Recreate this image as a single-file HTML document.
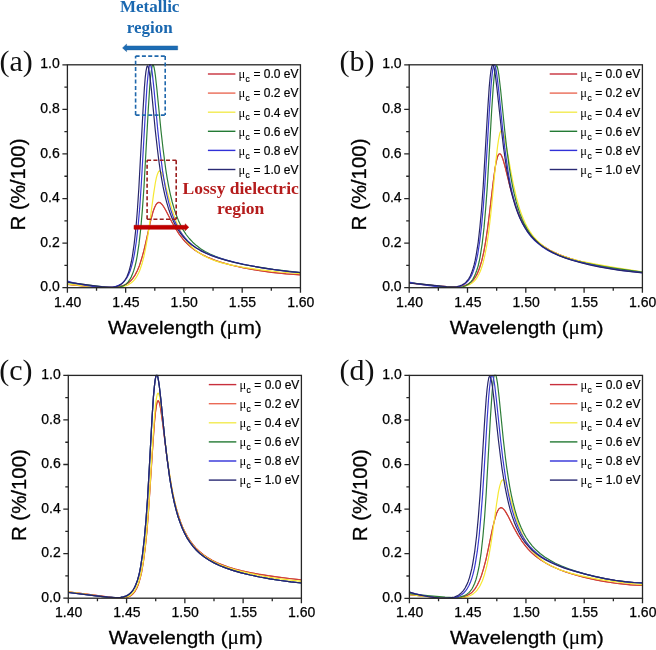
<!DOCTYPE html><html><head><meta charset="utf-8"><title>Reflectance spectra</title><style>html,body{margin:0;padding:0;background:#fff;}svg{display:block;}</style></head><body>
<svg width="656" height="650" viewBox="0 0 656 650">
<rect width="656" height="650" fill="#fff"/>
<defs><clipPath id="cpa"><rect x="67.4" y="64.1" width="233.05" height="223.6"/></clipPath></defs>
<g clip-path="url(#cpa)" fill="none" stroke-linejoin="round">
<path stroke="#c42a2a" stroke-width="1.2" d="M67.4,284.3 81.9,285.8 95.6,286.9 105.1,287.4 112.3,287.4 115.2,287.2 117.9,286.9 120.3,286.4 122.5,285.8 124.6,285.0 126.4,284.1 128.2,282.9 129.9,281.6 131.3,280.2 132.6,278.7 135.0,275.1 137.3,270.7 139.5,265.4 141.6,258.8 143.8,251.0 145.8,242.4 150.5,221.3 153.0,211.8 154.5,207.7 155.9,204.8 156.6,203.8 157.4,203.0 158.1,202.6 158.8,202.4 159.9,202.6 160.9,203.3 162.1,204.5 163.4,206.3 165.6,210.0 171.7,221.8 175.2,228.0 179.1,234.1 183.1,239.3 185.3,241.8 187.6,244.1 190.0,246.3 192.4,248.3 195.0,250.2 197.7,252.0 203.7,255.4 207.5,257.2 211.5,258.9 215.8,260.6 220.5,262.1 230.8,265.0 242.6,267.7 256.5,270.2 271.3,272.3 286.2,273.9 300.5,274.9"/>
<path stroke="#d84a3a" stroke-width="0.8" d="M67.4,284.3 81.9,285.8 95.6,286.9 105.1,287.4 112.3,287.4 115.2,287.2 117.9,286.9 120.3,286.4 122.5,285.8 124.6,285.0 126.4,284.1 128.2,282.9 129.9,281.6 131.3,280.2 132.6,278.7 135.0,275.1 137.3,270.7 139.5,265.4 141.6,258.8 143.8,251.0 145.8,242.4 150.5,221.3 153.0,211.8 154.5,207.7 155.9,204.8 156.6,203.8 157.4,203.0 158.1,202.6 158.8,202.4 159.9,202.6 160.9,203.3 162.1,204.5 163.4,206.3 165.6,210.0 171.7,221.8 175.2,228.0 179.1,234.1 183.1,239.3 185.3,241.8 187.6,244.1 190.0,246.3 192.4,248.3 195.0,250.2 197.7,252.0 203.7,255.4 207.5,257.2 211.5,258.9 215.8,260.6 220.5,262.1 230.8,265.0 242.6,267.7 256.5,270.2 271.3,272.3 286.2,273.9 300.5,274.9"/>
<path stroke="#f6e832" stroke-width="1.2" d="M67.4,284.2 83.5,285.9 98.6,287.1 109.1,287.6 113.2,287.6 116.7,287.5 119.8,287.1 122.6,286.7 125.1,286.0 127.4,285.2 129.4,284.1 131.3,282.8 133.0,281.3 134.6,279.6 136.0,277.7 137.3,275.5 138.6,273.0 139.8,270.3 142.0,263.8 144.0,256.0 145.9,246.7 147.9,235.3 149.7,222.9 153.5,194.7 155.3,183.0 156.4,177.6 157.5,173.9 158.5,171.7 159.0,171.2 159.6,170.9 160.4,171.2 161.2,172.3 162.1,174.0 163.0,176.5 164.7,182.1 169.7,201.1 172.4,210.8 175.7,220.2 177.3,224.3 179.0,228.1 180.8,231.9 182.8,235.4 184.9,238.7 187.1,241.7 189.5,244.5 191.9,247.1 194.5,249.4 197.4,251.7 200.6,253.8 204.1,255.9 207.8,257.7 211.9,259.5 216.3,261.1 221.1,262.6 226.3,263.9 231.9,265.2 238.2,266.5 245.2,267.7 261.0,269.9 279.9,272.0 300.5,273.7"/>
<path stroke="#2c7c36" stroke-width="1.2" d="M67.4,282.3 96.8,286.2 104.7,287.2 112.0,287.7 114.9,287.7 117.4,287.5 120.1,286.9 122.5,286.2 124.6,285.1 126.5,283.6 128.2,281.9 129.7,279.7 131.2,277.1 132.5,274.1 133.8,270.4 135.0,266.3 136.1,261.6 137.1,256.5 139.0,243.9 140.8,228.3 142.4,209.4 144.0,186.8 148.3,109.0 149.7,87.2 150.5,77.4 151.4,70.3 152.1,66.4 152.5,65.3 152.9,65.0 153.2,65.1 153.5,65.6 154.1,67.5 154.7,70.9 155.4,75.7 156.9,89.3 161.0,130.8 163.1,149.2 165.8,169.6 167.2,178.3 168.7,186.6 170.4,194.6 172.2,202.0 174.1,208.7 176.2,214.8 178.4,220.4 180.8,225.5 183.3,230.2 186.1,234.5 189.3,238.5 192.7,242.2 196.5,245.6 200.6,248.7 205.1,251.5 210.0,254.0 215.4,256.4 221.4,258.6 228.0,260.6 235.2,262.5 243.2,264.3 252.2,266.0 262.1,267.6 273.3,269.3 300.5,272.7"/>
<path stroke="#3a3ad2" stroke-width="1.2" d="M67.4,281.1 73.5,282.8 79.8,284.2 86.2,285.5 92.6,286.4 98.7,287.1 104.0,287.4 108.7,287.4 112.7,287.0 115.8,286.4 118.5,285.4 120.9,284.1 123.0,282.5 125.0,280.4 126.8,278.0 128.4,275.0 129.9,271.6 131.1,267.9 132.3,263.7 133.4,259.0 134.5,253.6 136.4,241.0 138.2,224.9 139.8,206.8 141.3,184.3 145.7,106.7 147.0,85.9 147.9,76.1 148.6,69.6 149.4,65.7 149.7,64.8 150.1,64.5 150.4,64.6 150.7,65.1 151.2,67.1 151.9,70.5 152.5,75.2 154.0,89.4 157.9,131.3 159.9,150.0 162.5,170.4 163.9,179.1 165.3,187.4 167.0,195.4 168.7,202.7 170.6,209.4 172.6,215.4 174.7,220.9 177.0,225.8 179.5,230.3 182.2,234.4 185.3,238.2 188.6,241.8 192.4,245.0 196.5,247.9 201.0,250.6 206.0,253.0 211.7,255.4 218.0,257.6 226.4,260.1 236.1,262.5 247.2,265.0 259.1,267.3 270.6,269.2 281.3,270.7 291.2,271.8 300.5,272.5"/>
<path stroke="#26266a" stroke-width="1.2" d="M67.4,282.1 92.7,285.6 101.8,286.7 108.8,287.2 111.6,287.2 114.0,287.0 116.5,286.5 118.7,285.7 120.7,284.6 122.5,283.2 124.1,281.4 125.5,279.2 126.9,276.7 128.2,273.6 129.3,270.1 130.4,266.0 131.4,261.5 132.4,256.2 134.2,243.6 135.9,228.4 137.4,210.0 138.9,187.3 143.0,110.5 144.4,87.8 145.2,77.8 146.0,71.1 146.8,67.1 147.1,66.2 147.5,65.9 147.7,66.0 148.0,66.5 148.6,68.4 149.2,71.5 149.8,75.9 151.4,89.6 155.3,130.5 157.4,149.0 158.7,159.6 160.1,169.5 161.5,178.1 163.0,186.4 164.7,194.3 166.5,201.6 168.4,208.2 170.5,214.3 172.7,219.7 175.2,224.9 177.8,229.5 180.7,233.7 183.9,237.7 187.5,241.4 191.4,244.7 195.8,247.8 200.5,250.6 205.8,253.2 211.6,255.7 218.1,258.0 225.6,260.2 234.1,262.4 243.5,264.5 253.9,266.4 265.3,268.3 277.1,270.0 289.0,271.5 300.5,272.6"/>
</g>
<rect x="67.4" y="64.8" width="233.05" height="222.9" fill="none" stroke="#262626" stroke-width="1.3"/>
<path d="M67.40,287.70v5 M96.53,287.70v3 M125.66,287.70v5 M154.79,287.70v3 M183.93,287.70v5 M213.06,287.70v3 M242.19,287.70v5 M271.32,287.70v3 M300.45,287.70v5 M67.40,287.70h-5 M67.40,265.41h-3 M67.40,243.12h-5 M67.40,220.83h-3 M67.40,198.54h-5 M67.40,176.25h-3 M67.40,153.96h-5 M67.40,131.67h-3 M67.40,109.38h-5 M67.40,87.09h-3 M67.40,64.80h-5" stroke="#262626" stroke-width="1.3" fill="none"/>
<g font-family="Liberation Sans, Arial, sans-serif" font-size="14" fill="#000" stroke="#000" stroke-width="0.25">
<text x="67.70" y="306.70" text-anchor="middle">1.40</text>
<text x="125.96" y="306.70" text-anchor="middle">1.45</text>
<text x="184.23" y="306.70" text-anchor="middle">1.50</text>
<text x="242.49" y="306.70" text-anchor="middle">1.55</text>
<text x="300.75" y="306.70" text-anchor="middle">1.60</text>
<text x="59.80" y="291.30" text-anchor="end">0.0</text>
<text x="59.80" y="246.72" text-anchor="end">0.2</text>
<text x="59.80" y="202.14" text-anchor="end">0.4</text>
<text x="59.80" y="157.56" text-anchor="end">0.6</text>
<text x="59.80" y="112.98" text-anchor="end">0.8</text>
<text x="59.80" y="68.40" text-anchor="end">1.0</text>
</g>
<text x="184.83" y="333.50" text-anchor="middle" font-family="Liberation Sans, Arial, sans-serif" font-size="19" textLength="153.8" lengthAdjust="spacingAndGlyphs" fill="#000" stroke="#000" stroke-width="0.3">Wavelength (<tspan font-family="Liberation Serif, Times New Roman, serif" font-size="20" stroke-width="0">μ</tspan>m)</text>
<text transform="translate(24.60,184.55) rotate(-90)" text-anchor="middle" font-family="Liberation Sans, Arial, sans-serif" font-size="19.5" textLength="92" lengthAdjust="spacingAndGlyphs" fill="#000" stroke="#000" stroke-width="0.3">R (%/100)</text>
<g font-family="Liberation Sans, Arial, sans-serif" font-size="12" fill="#000" stroke="#000" stroke-width="0.2">
<line x1="207.90" y1="74.00" x2="235.40" y2="74.00" stroke="#c8303c" stroke-width="1.4"/>
<text x="238.50" y="78.30"><tspan font-size="12.5" font-family="Liberation Serif, Times New Roman, serif" stroke-width="0">μ</tspan><tspan font-size="8.5" dy="3.9" dx="0.4">c</tspan><tspan dy="-3.9" dx="0.2"> = 0.0 eV</tspan></text>
<line x1="207.90" y1="93.10" x2="235.40" y2="93.10" stroke="#ea6a56" stroke-width="1.4"/>
<text x="238.50" y="97.40"><tspan font-size="12.5" font-family="Liberation Serif, Times New Roman, serif" stroke-width="0">μ</tspan><tspan font-size="8.5" dy="3.9" dx="0.4">c</tspan><tspan dy="-3.9" dx="0.2"> = 0.2 eV</tspan></text>
<line x1="207.90" y1="112.20" x2="235.40" y2="112.20" stroke="#f2ea50" stroke-width="1.4"/>
<text x="238.50" y="116.50"><tspan font-size="12.5" font-family="Liberation Serif, Times New Roman, serif" stroke-width="0">μ</tspan><tspan font-size="8.5" dy="3.9" dx="0.4">c</tspan><tspan dy="-3.9" dx="0.2"> = 0.4 eV</tspan></text>
<line x1="207.90" y1="131.30" x2="235.40" y2="131.30" stroke="#237a34" stroke-width="1.4"/>
<text x="238.50" y="135.60"><tspan font-size="12.5" font-family="Liberation Serif, Times New Roman, serif" stroke-width="0">μ</tspan><tspan font-size="8.5" dy="3.9" dx="0.4">c</tspan><tspan dy="-3.9" dx="0.2"> = 0.6 eV</tspan></text>
<line x1="207.90" y1="150.40" x2="235.40" y2="150.40" stroke="#3030d8" stroke-width="1.4"/>
<text x="238.50" y="154.70"><tspan font-size="12.5" font-family="Liberation Serif, Times New Roman, serif" stroke-width="0">μ</tspan><tspan font-size="8.5" dy="3.9" dx="0.4">c</tspan><tspan dy="-3.9" dx="0.2"> = 0.8 eV</tspan></text>
<line x1="207.90" y1="169.50" x2="235.40" y2="169.50" stroke="#2a2a74" stroke-width="1.4"/>
<text x="238.50" y="173.80"><tspan font-size="12.5" font-family="Liberation Serif, Times New Roman, serif" stroke-width="0">μ</tspan><tspan font-size="8.5" dy="3.9" dx="0.4">c</tspan><tspan dy="-3.9" dx="0.2"> = 1.0 eV</tspan></text>
</g>
<defs><clipPath id="cpb"><rect x="409.2" y="64.1" width="233.2" height="223.6"/></clipPath></defs>
<g clip-path="url(#cpb)" fill="none" stroke-linejoin="round">
<path stroke="#c42a2a" stroke-width="1.2" d="M409.2,282.8 424.1,284.7 439.8,286.2 450.3,286.8 454.3,286.9 457.7,286.7 460.7,286.4 463.3,285.9 465.6,285.2 467.8,284.3 469.7,283.1 471.5,281.7 473.2,280.1 474.7,278.1 476.0,276.0 477.3,273.6 478.5,270.8 479.6,267.8 481.8,260.6 483.8,251.8 485.7,241.1 487.6,228.4 489.3,214.7 493.2,182.1 495.1,167.8 496.3,161.5 497.4,157.2 497.9,155.7 498.5,154.6 499.0,154.0 499.6,153.8 500.0,153.8 500.4,154.1 501.3,155.2 502.1,157.1 503.1,159.8 504.9,166.0 509.9,186.3 512.9,196.9 516.2,207.3 517.9,211.9 519.7,216.1 521.7,220.4 523.7,224.3 525.9,227.9 528.1,231.3 530.5,234.4 533.1,237.3 535.8,240.1 538.7,242.6 542.1,245.3 545.9,247.8 549.9,250.2 554.3,252.4 559.1,254.5 564.3,256.5 569.9,258.4 576.1,260.3 583.4,262.2 591.3,264.1 599.7,265.9 608.4,267.6 617.2,269.1 625.9,270.4 634.3,271.4 642.4,272.2"/>
<path stroke="#d84a3a" stroke-width="0.8" d="M409.2,282.8 424.1,284.7 439.8,286.2 450.3,286.8 454.3,286.9 457.7,286.7 460.7,286.4 463.3,285.9 465.6,285.2 467.8,284.3 469.7,283.1 471.5,281.7 473.2,280.1 474.7,278.1 476.0,276.0 477.3,273.6 478.5,270.8 479.6,267.8 481.8,260.6 483.8,251.8 485.7,241.1 487.6,228.4 489.3,214.7 493.2,182.1 495.1,167.8 496.3,161.5 497.4,157.2 497.9,155.7 498.5,154.6 499.0,154.0 499.6,153.8 500.0,153.8 500.4,154.1 501.3,155.2 502.1,157.1 503.1,159.8 504.9,166.0 509.9,186.3 512.9,196.9 516.2,207.3 517.9,211.9 519.7,216.1 521.7,220.4 523.7,224.3 525.9,227.9 528.1,231.3 530.5,234.4 533.1,237.3 535.8,240.1 538.7,242.6 542.1,245.3 545.9,247.8 549.9,250.2 554.3,252.4 559.1,254.5 564.3,256.5 569.9,258.4 576.1,260.3 583.4,262.2 591.3,264.1 599.7,265.9 608.4,267.6 617.2,269.1 625.9,270.4 634.3,271.4 642.4,272.2"/>
<path stroke="#f6e832" stroke-width="1.2" d="M409.2,282.5 425.2,284.8 440.7,286.5 446.7,287.0 451.8,287.2 456.0,287.2 459.7,287.1 462.8,286.7 465.6,286.0 468.1,285.2 470.4,284.1 472.4,282.7 474.3,281.1 476.0,279.1 477.5,276.8 478.9,274.2 480.3,271.2 481.5,268.0 482.7,264.3 484.8,255.6 486.9,244.7 488.7,231.9 490.5,216.7 492.2,200.1 495.8,161.8 497.6,146.1 498.6,139.3 499.6,134.3 500.0,132.7 500.6,131.4 501.0,130.7 501.5,130.4 501.9,130.6 502.2,130.9 503.0,132.3 503.8,134.7 504.7,138.1 506.3,145.8 510.9,171.6 513.5,185.0 516.5,198.0 518.1,203.7 519.7,209.1 521.5,214.3 523.4,219.0 525.4,223.4 527.5,227.6 529.8,231.3 532.2,234.8 534.7,238.0 537.5,240.9 540.5,243.7 543.7,246.3 547.2,248.7 551.0,250.9 555.1,252.9 559.6,254.8 564.4,256.6 569.7,258.3 575.2,259.8 581.2,261.3 595.6,264.2 613.7,267.3 642.4,271.8"/>
<path stroke="#2c7c36" stroke-width="1.2" d="M409.2,282.7 438.3,286.2 446.9,287.2 454.5,287.6 457.5,287.5 460.1,287.3 462.8,286.8 465.2,286.0 467.4,284.8 469.3,283.4 471.1,281.7 472.7,279.5 474.1,276.9 475.5,273.8 476.8,270.3 478.1,266.1 479.2,261.5 480.2,256.3 482.2,243.6 484.0,227.9 485.6,209.5 487.3,186.6 491.7,109.9 493.2,87.8 494.0,78.3 494.8,71.3 495.6,67.1 496.0,66.0 496.4,65.7 496.7,65.8 497.0,66.2 497.6,68.2 498.3,71.5 499.0,76.2 500.6,89.8 504.8,131.3 506.8,149.1 509.5,169.1 511.0,177.9 512.5,186.1 514.2,193.9 516.0,201.2 517.9,207.8 520.0,213.9 522.2,219.4 524.5,224.4 527.1,229.1 529.8,233.3 532.9,237.3 536.3,241.0 540.0,244.4 544.0,247.5 548.5,250.3 553.3,252.8 558.6,255.2 564.5,257.4 570.9,259.5 577.9,261.4 585.7,263.2 594.4,264.9 604.2,266.7 615.2,268.4 642.4,272.2"/>
<path stroke="#3a3ad2" stroke-width="1.2" d="M409.2,282.1 416.4,283.6 423.8,284.9 431.4,286.0 438.3,286.9 443.9,287.4 448.8,287.6 452.9,287.5 456.4,287.1 459.3,286.5 461.9,285.6 464.2,284.3 466.3,282.7 468.3,280.6 470.0,278.2 471.6,275.4 473.0,272.0 474.3,268.4 475.5,264.1 476.7,259.3 477.8,254.0 479.7,241.4 481.6,225.5 483.3,206.9 484.9,184.6 489.5,108.5 491.0,86.3 491.9,76.5 492.7,69.9 493.5,65.9 493.9,65.0 494.3,64.7 494.6,64.8 494.9,65.2 495.5,67.2 496.2,70.7 496.9,75.4 498.6,89.4 502.8,130.5 504.8,148.2 507.6,168.4 509.1,177.3 510.6,185.3 512.3,193.2 514.1,200.4 516.0,207.1 518.1,213.2 520.3,218.8 522.7,223.9 525.3,228.5 528.0,232.7 531.2,236.8 534.7,240.5 538.5,243.9 542.6,247.1 547.2,249.9 552.3,252.6 557.9,255.1 564.1,257.5 571.6,259.9 580.0,262.2 589.4,264.4 599.7,266.6 610.6,268.6 621.6,270.3 632.3,271.7 642.4,272.7"/>
<path stroke="#26266a" stroke-width="1.2" d="M409.2,283.2 421.8,284.2 446.5,286.7 452.5,286.9 455.0,286.8 457.2,286.5 459.7,285.9 461.9,285.0 463.9,283.9 465.8,282.4 467.4,280.5 469.0,278.3 470.4,275.7 471.7,272.6 472.9,269.0 474.1,264.9 475.2,260.2 476.2,254.8 478.2,242.3 479.9,227.0 481.6,208.8 483.2,186.4 487.7,109.7 489.2,87.4 490.1,77.5 491.0,70.4 491.8,66.4 492.2,65.4 492.7,64.9 493.0,65.1 493.3,65.6 494.0,67.6 494.7,71.0 495.4,75.5 497.0,88.8 501.4,129.5 503.5,147.3 505.0,157.9 506.4,167.3 508.0,176.0 509.5,184.0 511.3,192.0 513.2,199.2 515.2,205.9 517.4,212.0 519.7,217.7 522.2,222.7 524.9,227.5 527.7,231.8 531.1,236.1 534.8,240.0 538.8,243.6 543.2,247.0 548.1,250.1 553.4,252.9 559.2,255.6 565.6,258.1 572.8,260.5 580.8,262.7 589.6,264.8 599.0,266.8 609.2,268.6 620.0,270.3 631.1,271.7 642.4,272.9"/>
</g>
<rect x="409.2" y="64.8" width="233.2" height="222.9" fill="none" stroke="#262626" stroke-width="1.3"/>
<path d="M409.20,287.70v5 M438.35,287.70v3 M467.50,287.70v5 M496.65,287.70v3 M525.80,287.70v5 M554.95,287.70v3 M584.10,287.70v5 M613.25,287.70v3 M642.40,287.70v5 M409.20,287.70h-5 M409.20,265.41h-3 M409.20,243.12h-5 M409.20,220.83h-3 M409.20,198.54h-5 M409.20,176.25h-3 M409.20,153.96h-5 M409.20,131.67h-3 M409.20,109.38h-5 M409.20,87.09h-3 M409.20,64.80h-5" stroke="#262626" stroke-width="1.3" fill="none"/>
<g font-family="Liberation Sans, Arial, sans-serif" font-size="14" fill="#000" stroke="#000" stroke-width="0.25">
<text x="409.50" y="306.70" text-anchor="middle">1.40</text>
<text x="467.80" y="306.70" text-anchor="middle">1.45</text>
<text x="526.10" y="306.70" text-anchor="middle">1.50</text>
<text x="584.40" y="306.70" text-anchor="middle">1.55</text>
<text x="642.70" y="306.70" text-anchor="middle">1.60</text>
<text x="401.60" y="291.30" text-anchor="end">0.0</text>
<text x="401.60" y="246.72" text-anchor="end">0.2</text>
<text x="401.60" y="202.14" text-anchor="end">0.4</text>
<text x="401.60" y="157.56" text-anchor="end">0.6</text>
<text x="401.60" y="112.98" text-anchor="end">0.8</text>
<text x="401.60" y="68.40" text-anchor="end">1.0</text>
</g>
<text x="526.70" y="333.50" text-anchor="middle" font-family="Liberation Sans, Arial, sans-serif" font-size="19" textLength="153.8" lengthAdjust="spacingAndGlyphs" fill="#000" stroke="#000" stroke-width="0.3">Wavelength (<tspan font-family="Liberation Serif, Times New Roman, serif" font-size="20" stroke-width="0">μ</tspan>m)</text>
<text transform="translate(366.40,184.55) rotate(-90)" text-anchor="middle" font-family="Liberation Sans, Arial, sans-serif" font-size="19.5" textLength="92" lengthAdjust="spacingAndGlyphs" fill="#000" stroke="#000" stroke-width="0.3">R (%/100)</text>
<g font-family="Liberation Sans, Arial, sans-serif" font-size="12" fill="#000" stroke="#000" stroke-width="0.2">
<line x1="549.70" y1="74.00" x2="577.20" y2="74.00" stroke="#c8303c" stroke-width="1.4"/>
<text x="580.30" y="78.30"><tspan font-size="12.5" font-family="Liberation Serif, Times New Roman, serif" stroke-width="0">μ</tspan><tspan font-size="8.5" dy="3.9" dx="0.4">c</tspan><tspan dy="-3.9" dx="0.2"> = 0.0 eV</tspan></text>
<line x1="549.70" y1="93.10" x2="577.20" y2="93.10" stroke="#ea6a56" stroke-width="1.4"/>
<text x="580.30" y="97.40"><tspan font-size="12.5" font-family="Liberation Serif, Times New Roman, serif" stroke-width="0">μ</tspan><tspan font-size="8.5" dy="3.9" dx="0.4">c</tspan><tspan dy="-3.9" dx="0.2"> = 0.2 eV</tspan></text>
<line x1="549.70" y1="112.20" x2="577.20" y2="112.20" stroke="#f2ea50" stroke-width="1.4"/>
<text x="580.30" y="116.50"><tspan font-size="12.5" font-family="Liberation Serif, Times New Roman, serif" stroke-width="0">μ</tspan><tspan font-size="8.5" dy="3.9" dx="0.4">c</tspan><tspan dy="-3.9" dx="0.2"> = 0.4 eV</tspan></text>
<line x1="549.70" y1="131.30" x2="577.20" y2="131.30" stroke="#237a34" stroke-width="1.4"/>
<text x="580.30" y="135.60"><tspan font-size="12.5" font-family="Liberation Serif, Times New Roman, serif" stroke-width="0">μ</tspan><tspan font-size="8.5" dy="3.9" dx="0.4">c</tspan><tspan dy="-3.9" dx="0.2"> = 0.6 eV</tspan></text>
<line x1="549.70" y1="150.40" x2="577.20" y2="150.40" stroke="#3030d8" stroke-width="1.4"/>
<text x="580.30" y="154.70"><tspan font-size="12.5" font-family="Liberation Serif, Times New Roman, serif" stroke-width="0">μ</tspan><tspan font-size="8.5" dy="3.9" dx="0.4">c</tspan><tspan dy="-3.9" dx="0.2"> = 0.8 eV</tspan></text>
<line x1="549.70" y1="169.50" x2="577.20" y2="169.50" stroke="#2a2a74" stroke-width="1.4"/>
<text x="580.30" y="173.80"><tspan font-size="12.5" font-family="Liberation Serif, Times New Roman, serif" stroke-width="0">μ</tspan><tspan font-size="8.5" dy="3.9" dx="0.4">c</tspan><tspan dy="-3.9" dx="0.2"> = 1.0 eV</tspan></text>
</g>
<defs><clipPath id="cpc"><rect x="68.3" y="374.7" width="233.1" height="223.5"/></clipPath></defs>
<g clip-path="url(#cpc)" fill="none" stroke-linejoin="round">
<path stroke="#c42a2a" stroke-width="1.2" d="M68.3,591.9 86.7,594.0 113.4,597.7 118.5,598.1 122.6,598.1 125.1,597.9 127.3,597.3 129.3,596.5 131.1,595.5 132.7,594.1 134.2,592.4 135.6,590.3 136.9,587.9 138.2,584.8 139.3,581.3 140.4,577.3 141.5,572.8 143.4,561.9 145.2,548.1 146.9,531.9 148.5,511.7 153.1,441.3 154.6,421.1 155.5,412.2 156.4,405.7 157.2,401.9 157.6,401.0 158.1,400.7 158.4,400.8 158.7,401.3 159.4,403.0 160.1,406.0 160.8,409.8 162.4,421.3 166.7,455.7 168.9,471.0 171.8,488.3 173.3,495.9 174.9,502.8 176.7,509.8 178.6,516.0 180.5,521.8 182.6,527.0 184.9,531.9 187.4,536.5 190.0,540.6 192.8,544.4 196.0,548.1 199.5,551.5 203.4,554.7 207.5,557.5 212.1,560.2 217.1,562.7 222.5,564.9 228.4,567.0 235.0,569.0 242.1,570.8 250.0,572.5 258.6,574.2 268.0,575.7 278.3,577.1 289.4,578.5 301.4,579.8"/>
<path stroke="#d84a3a" stroke-width="0.8" d="M68.3,591.9 86.7,594.0 113.4,597.7 118.5,598.1 122.6,598.1 125.1,597.9 127.3,597.3 129.3,596.5 131.1,595.5 132.7,594.1 134.2,592.4 135.6,590.3 136.9,587.9 138.2,584.8 139.3,581.3 140.4,577.3 141.5,572.8 143.4,561.9 145.2,548.1 146.9,531.9 148.5,511.7 153.1,441.3 154.6,421.1 155.5,412.2 156.4,405.7 157.2,401.9 157.6,401.0 158.1,400.7 158.4,400.8 158.7,401.3 159.4,403.0 160.1,406.0 160.8,409.8 162.4,421.3 166.7,455.7 168.9,471.0 171.8,488.3 173.3,495.9 174.9,502.8 176.7,509.8 178.6,516.0 180.5,521.8 182.6,527.0 184.9,531.9 187.4,536.5 190.0,540.6 192.8,544.4 196.0,548.1 199.5,551.5 203.4,554.7 207.5,557.5 212.1,560.2 217.1,562.7 222.5,564.9 228.4,567.0 235.0,569.0 242.1,570.8 250.0,572.5 258.6,574.2 268.0,575.7 278.3,577.1 289.4,578.5 301.4,579.8"/>
<path stroke="#f6e832" stroke-width="1.2" d="M68.3,591.9 95.6,595.7 108.1,597.3 115.9,598.0 118.9,598.1 121.6,598.0 124.3,597.6 126.7,597.0 128.8,596.1 130.8,595.0 132.5,593.4 134.2,591.5 135.6,589.3 136.9,586.6 138.2,583.5 139.5,579.7 140.6,575.6 141.6,570.8 142.6,565.5 143.6,559.3 145.4,544.8 147.0,527.9 148.7,506.9 153.2,434.2 154.7,413.9 155.5,404.6 156.4,398.3 157.2,394.5 157.6,393.5 158.0,393.1 158.3,393.3 158.6,393.7 159.3,395.5 160.0,398.6 160.7,402.8 162.2,414.8 166.4,451.2 168.5,467.3 171.3,485.3 172.8,493.2 174.4,500.7 176.1,507.9 177.9,514.4 179.8,520.4 181.9,526.0 184.2,531.1 186.5,535.8 189.1,540.0 191.8,543.9 195.0,547.8 198.5,551.4 202.3,554.6 206.5,557.6 211.0,560.3 216.0,562.9 221.5,565.2 227.5,567.4 234.4,569.6 242.1,571.7 250.5,573.6 259.7,575.5 269.8,577.3 280.2,578.8 290.9,580.2 301.4,581.3"/>
<path stroke="#2c7c36" stroke-width="1.2" d="M68.3,592.5 98.1,596.1 107.6,597.1 115.2,597.6 118.1,597.6 120.7,597.4 123.4,596.9 125.8,596.1 127.9,595.1 129.8,593.7 131.6,592.0 133.2,589.8 134.7,587.3 136.0,584.3 137.3,580.7 138.5,576.8 139.6,572.2 140.6,566.9 142.5,554.5 144.3,538.7 146.0,520.1 147.6,497.7 149.0,473.5 152.0,418.6 153.4,397.1 154.3,387.4 155.1,380.4 155.9,376.2 156.3,375.2 156.7,374.8 157.0,375.0 157.3,375.5 157.9,377.3 158.5,380.6 159.2,385.3 160.8,399.0 164.9,440.0 167.0,457.9 169.7,477.9 171.1,486.4 172.6,494.6 174.3,502.5 176.1,509.8 178.0,516.5 180.1,522.6 182.3,528.3 184.7,533.4 187.2,538.2 190.0,542.4 193.2,546.6 196.7,550.5 200.5,554.1 204.7,557.3 209.3,560.3 214.5,563.1 220.0,565.7 226.2,568.1 233.5,570.6 241.4,572.8 250.2,575.0 259.7,577.0 269.9,578.9 280.5,580.5 291.0,581.9 301.4,583.0"/>
<path stroke="#3a3ad2" stroke-width="1.2" d="M68.3,592.5 98.1,596.1 107.6,597.1 115.2,597.6 118.1,597.6 120.7,597.4 123.4,596.9 125.8,596.1 127.9,595.1 129.8,593.7 131.6,592.0 133.2,589.8 134.7,587.3 136.0,584.3 137.3,580.7 138.5,576.8 139.6,572.2 140.6,566.9 142.5,554.5 144.3,538.7 146.0,520.1 147.6,497.7 149.0,473.5 152.0,418.6 153.4,397.1 154.3,387.4 155.1,380.4 155.9,376.2 156.3,375.2 156.7,374.8 157.0,375.0 157.3,375.5 157.9,377.3 158.5,380.6 159.2,385.3 160.8,399.0 164.9,440.0 167.0,457.9 169.7,477.9 171.1,486.4 172.6,494.6 174.3,502.5 176.1,509.8 178.0,516.5 180.1,522.6 182.3,528.3 184.7,533.4 187.2,538.2 190.0,542.4 193.2,546.6 196.7,550.5 200.5,554.1 204.7,557.3 209.3,560.3 214.5,563.1 220.0,565.7 226.2,568.1 233.5,570.6 241.4,572.8 250.2,575.0 259.7,577.0 269.9,578.9 280.5,580.5 291.0,581.9 301.4,583.0"/>
<path stroke="#26266a" stroke-width="1.2" d="M68.3,592.5 98.1,596.1 107.6,597.1 115.2,597.6 118.1,597.6 120.7,597.4 123.4,596.9 125.8,596.1 127.9,595.1 129.8,593.7 131.6,592.0 133.2,589.8 134.7,587.3 136.0,584.3 137.3,580.7 138.5,576.8 139.6,572.2 140.6,566.9 142.5,554.5 144.3,538.7 146.0,520.1 147.6,497.7 149.0,473.5 152.0,418.6 153.4,397.1 154.3,387.4 155.1,380.4 155.9,376.2 156.3,375.2 156.7,374.8 157.0,375.0 157.3,375.5 157.9,377.3 158.5,380.6 159.2,385.3 160.8,399.0 164.9,440.0 167.0,457.9 169.7,477.9 171.1,486.4 172.6,494.6 174.3,502.5 176.1,509.8 178.0,516.5 180.1,522.6 182.3,528.3 184.7,533.4 187.2,538.2 190.0,542.4 193.2,546.6 196.7,550.5 200.5,554.1 204.7,557.3 209.3,560.3 214.5,563.1 220.0,565.7 226.2,568.1 233.5,570.6 241.4,572.8 250.2,575.0 259.7,577.0 269.9,578.9 280.5,580.5 291.0,581.9 301.4,583.0"/>
</g>
<rect x="68.3" y="375.4" width="233.1" height="222.8" fill="none" stroke="#262626" stroke-width="1.3"/>
<path d="M68.30,598.20v5 M97.44,598.20v3 M126.58,598.20v5 M155.71,598.20v3 M184.85,598.20v5 M213.99,598.20v3 M243.12,598.20v5 M272.26,598.20v3 M301.40,598.20v5 M68.30,598.20h-5 M68.30,575.92h-3 M68.30,553.64h-5 M68.30,531.36h-3 M68.30,509.08h-5 M68.30,486.80h-3 M68.30,464.52h-5 M68.30,442.24h-3 M68.30,419.96h-5 M68.30,397.68h-3 M68.30,375.40h-5" stroke="#262626" stroke-width="1.3" fill="none"/>
<g font-family="Liberation Sans, Arial, sans-serif" font-size="14" fill="#000" stroke="#000" stroke-width="0.25">
<text x="68.60" y="617.20" text-anchor="middle">1.40</text>
<text x="126.88" y="617.20" text-anchor="middle">1.45</text>
<text x="185.15" y="617.20" text-anchor="middle">1.50</text>
<text x="243.42" y="617.20" text-anchor="middle">1.55</text>
<text x="301.70" y="617.20" text-anchor="middle">1.60</text>
<text x="60.70" y="601.80" text-anchor="end">0.0</text>
<text x="60.70" y="557.24" text-anchor="end">0.2</text>
<text x="60.70" y="512.68" text-anchor="end">0.4</text>
<text x="60.70" y="468.12" text-anchor="end">0.6</text>
<text x="60.70" y="423.56" text-anchor="end">0.8</text>
<text x="60.70" y="379.00" text-anchor="end">1.0</text>
</g>
<text x="185.75" y="644.00" text-anchor="middle" font-family="Liberation Sans, Arial, sans-serif" font-size="19" textLength="153.8" lengthAdjust="spacingAndGlyphs" fill="#000" stroke="#000" stroke-width="0.3">Wavelength (<tspan font-family="Liberation Serif, Times New Roman, serif" font-size="20" stroke-width="0">μ</tspan>m)</text>
<text transform="translate(25.50,495.10) rotate(-90)" text-anchor="middle" font-family="Liberation Sans, Arial, sans-serif" font-size="19.5" textLength="92" lengthAdjust="spacingAndGlyphs" fill="#000" stroke="#000" stroke-width="0.3">R (%/100)</text>
<g font-family="Liberation Sans, Arial, sans-serif" font-size="12" fill="#000" stroke="#000" stroke-width="0.2">
<line x1="208.80" y1="384.60" x2="236.30" y2="384.60" stroke="#c8303c" stroke-width="1.4"/>
<text x="239.40" y="388.90"><tspan font-size="12.5" font-family="Liberation Serif, Times New Roman, serif" stroke-width="0">μ</tspan><tspan font-size="8.5" dy="3.9" dx="0.4">c</tspan><tspan dy="-3.9" dx="0.2"> = 0.0 eV</tspan></text>
<line x1="208.80" y1="403.70" x2="236.30" y2="403.70" stroke="#ea6a56" stroke-width="1.4"/>
<text x="239.40" y="408.00"><tspan font-size="12.5" font-family="Liberation Serif, Times New Roman, serif" stroke-width="0">μ</tspan><tspan font-size="8.5" dy="3.9" dx="0.4">c</tspan><tspan dy="-3.9" dx="0.2"> = 0.2 eV</tspan></text>
<line x1="208.80" y1="422.80" x2="236.30" y2="422.80" stroke="#f2ea50" stroke-width="1.4"/>
<text x="239.40" y="427.10"><tspan font-size="12.5" font-family="Liberation Serif, Times New Roman, serif" stroke-width="0">μ</tspan><tspan font-size="8.5" dy="3.9" dx="0.4">c</tspan><tspan dy="-3.9" dx="0.2"> = 0.4 eV</tspan></text>
<line x1="208.80" y1="441.90" x2="236.30" y2="441.90" stroke="#237a34" stroke-width="1.4"/>
<text x="239.40" y="446.20"><tspan font-size="12.5" font-family="Liberation Serif, Times New Roman, serif" stroke-width="0">μ</tspan><tspan font-size="8.5" dy="3.9" dx="0.4">c</tspan><tspan dy="-3.9" dx="0.2"> = 0.6 eV</tspan></text>
<line x1="208.80" y1="461.00" x2="236.30" y2="461.00" stroke="#3030d8" stroke-width="1.4"/>
<text x="239.40" y="465.30"><tspan font-size="12.5" font-family="Liberation Serif, Times New Roman, serif" stroke-width="0">μ</tspan><tspan font-size="8.5" dy="3.9" dx="0.4">c</tspan><tspan dy="-3.9" dx="0.2"> = 0.8 eV</tspan></text>
<line x1="208.80" y1="480.10" x2="236.30" y2="480.10" stroke="#2a2a74" stroke-width="1.4"/>
<text x="239.40" y="484.40"><tspan font-size="12.5" font-family="Liberation Serif, Times New Roman, serif" stroke-width="0">μ</tspan><tspan font-size="8.5" dy="3.9" dx="0.4">c</tspan><tspan dy="-3.9" dx="0.2"> = 1.0 eV</tspan></text>
</g>
<defs><clipPath id="cpd"><rect x="409.4" y="374.7" width="233.1" height="223.6"/></clipPath></defs>
<g clip-path="url(#cpd)" fill="none" stroke-linejoin="round">
<path stroke="#c42a2a" stroke-width="1.2" d="M409.4,594.7 423.3,596.2 437.9,597.5 447.8,598.0 455.0,598.1 457.9,597.9 460.5,597.5 462.8,597.0 465.0,596.4 467.0,595.6 468.8,594.6 470.5,593.5 472.2,592.1 473.5,590.7 474.8,589.1 477.2,585.3 479.5,580.6 481.6,575.1 483.7,568.2 485.9,559.8 487.9,550.6 492.6,528.2 495.1,518.0 496.5,513.5 498.0,510.3 498.7,509.2 499.4,508.4 500.2,507.9 501.0,507.7 502.0,507.9 503.0,508.6 504.2,509.8 505.5,511.6 507.8,515.6 514.0,527.9 517.6,534.4 521.6,540.8 525.8,546.4 528.0,549.0 530.4,551.5 532.8,553.8 535.4,556.0 538.1,558.1 540.9,560.1 547.0,563.8 551.2,566.0 555.7,568.0 560.4,570.0 565.6,571.9 571.2,573.7 577.1,575.4 583.4,577.1 589.9,578.6 596.8,580.1 603.6,581.4 610.5,582.5 617.3,583.5 623.9,584.2 630.3,584.8 636.5,585.2 642.5,585.3"/>
<path stroke="#d84a3a" stroke-width="0.8" d="M409.4,594.7 423.3,596.2 437.9,597.5 447.8,598.0 455.0,598.1 457.9,597.9 460.5,597.5 462.8,597.0 465.0,596.4 467.0,595.6 468.8,594.6 470.5,593.5 472.2,592.1 473.5,590.7 474.8,589.1 477.2,585.3 479.5,580.6 481.6,575.1 483.7,568.2 485.9,559.8 487.9,550.6 492.6,528.2 495.1,518.0 496.5,513.5 498.0,510.3 498.7,509.2 499.4,508.4 500.2,507.9 501.0,507.7 502.0,507.9 503.0,508.6 504.2,509.8 505.5,511.6 507.8,515.6 514.0,527.9 517.6,534.4 521.6,540.8 525.8,546.4 528.0,549.0 530.4,551.5 532.8,553.8 535.4,556.0 538.1,558.1 540.9,560.1 547.0,563.8 551.2,566.0 555.7,568.0 560.4,570.0 565.6,571.9 571.2,573.7 577.1,575.4 583.4,577.1 589.9,578.6 596.8,580.1 603.6,581.4 610.5,582.5 617.3,583.5 623.9,584.2 630.3,584.8 636.5,585.2 642.5,585.3"/>
<path stroke="#f6e832" stroke-width="1.2" d="M409.4,594.5 424.0,596.3 438.9,597.6 450.4,598.3 454.9,598.3 458.7,598.1 461.9,597.8 464.8,597.4 467.3,596.7 469.7,595.8 471.8,594.7 473.7,593.4 475.5,591.9 477.1,590.1 478.5,588.2 479.9,586.0 481.1,583.5 482.4,580.7 484.6,574.2 486.7,566.3 488.7,556.8 490.7,545.3 492.6,532.8 496.5,504.5 498.4,492.2 499.6,486.7 500.7,482.9 501.2,481.6 501.8,480.6 502.4,480.0 503.0,479.7 503.4,479.8 503.8,480.0 504.7,481.0 505.6,482.8 506.6,485.3 508.4,491.1 513.5,509.6 516.5,519.2 519.8,528.6 521.5,532.7 523.2,536.5 525.1,540.2 527.2,543.8 529.3,547.0 531.5,549.9 533.8,552.7 536.3,555.3 539.0,557.8 541.8,560.0 545.1,562.4 548.7,564.5 552.5,566.5 556.7,568.4 561.2,570.2 566.1,571.8 571.4,573.4 577.2,574.9 583.9,576.4 591.2,577.9 599.0,579.3 607.4,580.6 625.1,582.9 642.5,584.6"/>
<path stroke="#2c7c36" stroke-width="1.2" d="M409.4,593.7 427.4,595.6 445.1,597.2 453.5,597.5 456.7,597.3 459.5,597.0 462.2,596.4 464.6,595.6 466.7,594.4 468.6,592.9 470.3,591.2 471.9,589.0 473.3,586.3 474.7,583.2 476.0,579.5 477.1,575.4 478.2,570.6 479.3,565.2 481.2,552.3 483.0,535.8 484.6,517.2 486.1,495.2 490.3,419.4 491.7,398.3 492.4,388.7 493.1,381.9 493.8,377.1 494.5,374.5 495.6,374.5 495.9,375.2 496.6,378.2 497.5,383.3 499.1,397.2 503.3,439.3 505.4,457.5 506.8,468.1 508.3,477.9 509.7,486.6 511.3,494.8 513.0,502.5 514.8,509.6 516.7,516.0 518.8,522.1 521.1,527.6 523.4,532.6 526.0,537.2 528.7,541.4 532.2,545.8 535.9,549.8 540.1,553.5 544.7,556.9 549.7,560.1 555.4,563.2 561.7,566.0 568.6,568.8 577.1,571.6 586.3,574.3 596.1,576.7 606.1,578.8 615.7,580.5 625.0,581.7 633.9,582.5 642.5,582.8"/>
<path stroke="#3a3ad2" stroke-width="1.2" d="M409.4,592.1 415.3,593.8 421.5,595.2 427.8,596.5 434.1,597.4 439.8,598.0 444.9,598.3 449.4,598.2 453.3,597.8 456.4,597.1 459.1,596.1 461.5,594.7 463.7,593.0 465.6,590.9 467.4,588.3 469.1,585.3 470.6,581.8 471.9,578.1 473.1,573.8 474.3,568.9 475.3,563.7 477.3,551.2 479.2,535.5 480.8,517.2 482.5,495.6 484.0,472.2 487.2,418.4 488.7,396.8 489.6,387.3 490.4,380.8 491.2,376.8 491.6,375.8 492.1,375.3 492.4,375.5 492.7,376.0 493.4,378.0 494.1,381.5 494.8,386.0 496.4,399.7 500.7,440.8 502.8,458.5 505.6,478.3 507.1,486.9 508.6,495.1 510.4,503.0 512.2,510.1 514.2,516.7 516.3,522.7 518.5,528.3 520.9,533.3 523.5,537.8 526.3,542.0 529.7,546.3 533.4,550.1 537.4,553.7 541.9,556.9 546.9,560.0 552.5,562.8 558.6,565.5 565.6,568.2 574.6,571.1 584.6,573.9 595.4,576.6 606.1,578.8 616.0,580.5 625.4,581.8 634.2,582.6 642.5,582.9"/>
<path stroke="#26266a" stroke-width="1.2" d="M409.4,592.2 415.4,593.9 421.6,595.3 427.8,596.5 433.8,597.4 439.2,598.0 443.9,598.2 448.0,598.1 451.5,597.7 454.4,597.0 457.1,595.9 459.4,594.5 461.5,592.7 463.4,590.6 465.1,588.0 466.7,584.9 468.2,581.4 469.5,577.6 470.6,573.4 471.8,568.7 472.8,563.4 474.8,550.8 476.6,535.7 478.3,517.6 480.0,495.5 484.7,419.8 486.2,398.5 487.1,389.0 488.0,382.0 488.8,377.8 489.2,376.8 489.7,376.3 490.0,376.4 490.3,376.9 491.0,379.0 491.7,382.4 492.5,387.2 494.1,400.4 498.5,440.8 500.7,458.5 502.1,469.1 503.6,478.5 505.1,487.2 506.7,495.1 508.5,503.1 510.3,510.2 512.3,516.6 514.5,522.7 516.7,528.1 519.2,533.1 521.9,537.8 524.7,542.0 528.2,546.2 531.9,550.0 536.0,553.6 540.6,556.9 545.6,559.9 551.2,562.7 557.4,565.4 564.4,568.1 573.4,570.9 583.4,573.7 594.2,576.3 605.1,578.6 615.3,580.4 624.9,581.7 633.9,582.5 642.5,583.0"/>
</g>
<rect x="409.4" y="375.4" width="233.1" height="222.9" fill="none" stroke="#262626" stroke-width="1.3"/>
<path d="M409.40,598.30v5 M438.54,598.30v3 M467.68,598.30v5 M496.81,598.30v3 M525.95,598.30v5 M555.09,598.30v3 M584.22,598.30v5 M613.36,598.30v3 M642.50,598.30v5 M409.40,598.30h-5 M409.40,576.01h-3 M409.40,553.72h-5 M409.40,531.43h-3 M409.40,509.14h-5 M409.40,486.85h-3 M409.40,464.56h-5 M409.40,442.27h-3 M409.40,419.98h-5 M409.40,397.69h-3 M409.40,375.40h-5" stroke="#262626" stroke-width="1.3" fill="none"/>
<g font-family="Liberation Sans, Arial, sans-serif" font-size="14" fill="#000" stroke="#000" stroke-width="0.25">
<text x="409.70" y="617.30" text-anchor="middle">1.40</text>
<text x="467.98" y="617.30" text-anchor="middle">1.45</text>
<text x="526.25" y="617.30" text-anchor="middle">1.50</text>
<text x="584.52" y="617.30" text-anchor="middle">1.55</text>
<text x="642.80" y="617.30" text-anchor="middle">1.60</text>
<text x="401.80" y="601.90" text-anchor="end">0.0</text>
<text x="401.80" y="557.32" text-anchor="end">0.2</text>
<text x="401.80" y="512.74" text-anchor="end">0.4</text>
<text x="401.80" y="468.16" text-anchor="end">0.6</text>
<text x="401.80" y="423.58" text-anchor="end">0.8</text>
<text x="401.80" y="379.00" text-anchor="end">1.0</text>
</g>
<text x="526.85" y="644.10" text-anchor="middle" font-family="Liberation Sans, Arial, sans-serif" font-size="19" textLength="153.8" lengthAdjust="spacingAndGlyphs" fill="#000" stroke="#000" stroke-width="0.3">Wavelength (<tspan font-family="Liberation Serif, Times New Roman, serif" font-size="20" stroke-width="0">μ</tspan>m)</text>
<text transform="translate(366.60,495.15) rotate(-90)" text-anchor="middle" font-family="Liberation Sans, Arial, sans-serif" font-size="19.5" textLength="92" lengthAdjust="spacingAndGlyphs" fill="#000" stroke="#000" stroke-width="0.3">R (%/100)</text>
<g font-family="Liberation Sans, Arial, sans-serif" font-size="12" fill="#000" stroke="#000" stroke-width="0.2">
<line x1="549.90" y1="384.60" x2="577.40" y2="384.60" stroke="#c8303c" stroke-width="1.4"/>
<text x="580.50" y="388.90"><tspan font-size="12.5" font-family="Liberation Serif, Times New Roman, serif" stroke-width="0">μ</tspan><tspan font-size="8.5" dy="3.9" dx="0.4">c</tspan><tspan dy="-3.9" dx="0.2"> = 0.0 eV</tspan></text>
<line x1="549.90" y1="403.70" x2="577.40" y2="403.70" stroke="#ea6a56" stroke-width="1.4"/>
<text x="580.50" y="408.00"><tspan font-size="12.5" font-family="Liberation Serif, Times New Roman, serif" stroke-width="0">μ</tspan><tspan font-size="8.5" dy="3.9" dx="0.4">c</tspan><tspan dy="-3.9" dx="0.2"> = 0.2 eV</tspan></text>
<line x1="549.90" y1="422.80" x2="577.40" y2="422.80" stroke="#f2ea50" stroke-width="1.4"/>
<text x="580.50" y="427.10"><tspan font-size="12.5" font-family="Liberation Serif, Times New Roman, serif" stroke-width="0">μ</tspan><tspan font-size="8.5" dy="3.9" dx="0.4">c</tspan><tspan dy="-3.9" dx="0.2"> = 0.4 eV</tspan></text>
<line x1="549.90" y1="441.90" x2="577.40" y2="441.90" stroke="#237a34" stroke-width="1.4"/>
<text x="580.50" y="446.20"><tspan font-size="12.5" font-family="Liberation Serif, Times New Roman, serif" stroke-width="0">μ</tspan><tspan font-size="8.5" dy="3.9" dx="0.4">c</tspan><tspan dy="-3.9" dx="0.2"> = 0.6 eV</tspan></text>
<line x1="549.90" y1="461.00" x2="577.40" y2="461.00" stroke="#3030d8" stroke-width="1.4"/>
<text x="580.50" y="465.30"><tspan font-size="12.5" font-family="Liberation Serif, Times New Roman, serif" stroke-width="0">μ</tspan><tspan font-size="8.5" dy="3.9" dx="0.4">c</tspan><tspan dy="-3.9" dx="0.2"> = 0.8 eV</tspan></text>
<line x1="549.90" y1="480.10" x2="577.40" y2="480.10" stroke="#2a2a74" stroke-width="1.4"/>
<text x="580.50" y="484.40"><tspan font-size="12.5" font-family="Liberation Serif, Times New Roman, serif" stroke-width="0">μ</tspan><tspan font-size="8.5" dy="3.9" dx="0.4">c</tspan><tspan dy="-3.9" dx="0.2"> = 1.0 eV</tspan></text>
</g>
<text x="-0.5" y="70.5" font-family="Liberation Serif, Times New Roman, serif" font-size="30" fill="#111">(a)</text>
<text x="339.5" y="70.5" font-family="Liberation Serif, Times New Roman, serif" font-size="30" fill="#111">(b)</text>
<text x="-0.7" y="380" font-family="Liberation Serif, Times New Roman, serif" font-size="30" fill="#111">(c)</text>
<text x="339.5" y="380" font-family="Liberation Serif, Times New Roman, serif" font-size="30" fill="#111">(d)</text>
<g font-family="Liberation Serif, Times New Roman, serif" font-weight="bold" font-size="17" fill="#1a68b0" text-anchor="middle">
<text x="149.7" y="12">Metallic</text><text x="149.8" y="32.8">region</text></g>
<path d="M177.7,45.9 H126.6 V44.1 L122.5,47.9 L126.6,51.7 V49.9 H177.7 Z" fill="#1c6cb4" stroke="#1c5a96" stroke-width="0.4"/>
<path d="M135.6,115.1 L135.6,56.1 M135.6,56.1 L165.2,56.1 M165.2,56.1 L165.2,115.1 M135.6,115.1 L165.2,115.1" fill="none" stroke="#2068ac" stroke-width="1.6" stroke-dasharray="4,2.3"/>
<path d="M147.1,219.2 L147.1,160.3 M147.1,160.3 L176.2,160.3 M176.2,160.3 L176.2,219.2 M147.1,219.2 L176.2,219.2" fill="none" stroke="#9a1e1e" stroke-width="1.6" stroke-dasharray="4,2.3"/>
<path d="M134,225.3 H185.2 V223.8 L188.8,227.3 L185.2,230.8 V229.3 H134 Z" fill="#c00000" stroke="#b00000" stroke-width="0.5"/>
<g font-family="Liberation Serif, Times New Roman, serif" font-weight="bold" font-size="17.5" fill="#b51c1c" text-anchor="middle">
<text x="240.7" y="194.4">Lossy dielectric</text><text x="240.7" y="214.4">region</text></g>
</svg></body></html>
